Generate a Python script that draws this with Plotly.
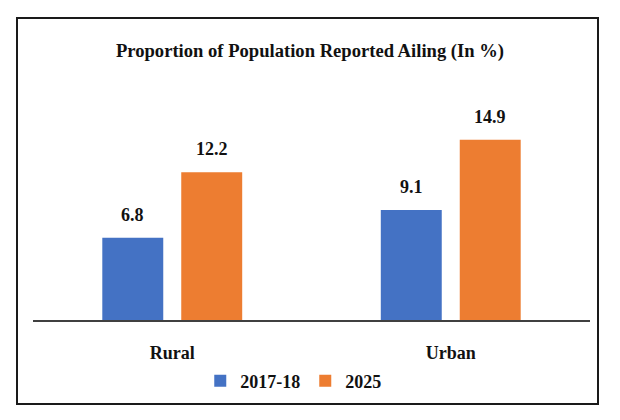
import plotly.graph_objects as go

categories = ["Rural", "Urban"]
series_names = ["2017-18", "2025"]
values_2017 = [6.8, 9.1]
values_2025 = [12.2, 14.9]
colors = ["#4472C4", "#ED7D31"]

W, H = 620, 420
ml, mr, mt, mb = 33, 30, 100, 100
ymax = 18.18
font_family = "Liberation Serif, Times New Roman, serif"
bold = dict(family=font_family, size=18, color="#111", weight="bold")

fig = go.Figure()
for name, vals, col in zip(series_names, [values_2017, values_2025], colors):
    fig.add_trace(go.Bar(name=name, x=categories, y=vals, marker_color=col,
                         marker_line_width=0))

# value labels
plot_w = W - ml - mr
slot = plot_w / len(categories) * (1 - 0.433) / 2
for i, vals in enumerate([values_2017, values_2025]):
    xs = (-0.5 + i) * slot
    for c, v in zip(categories, vals):
        fig.add_annotation(x=c, y=v, text=str(v), showarrow=False,
                           xshift=xs, yshift=23, yanchor="middle",
                           font=bold)

# outer border
ph = H - mt - mb
px2x = lambda px: (px - ml) / plot_w
py2y = lambda py: (H - mb - py) / ph
fig.add_shape(type="rect", xref="paper", yref="paper",
              x0=px2x(17), x1=px2x(598), y0=py2y(404), y1=py2y(18),
              line=dict(color="#1a1a1a", width=2), fillcolor="rgba(0,0,0,0)",
              layer="below")

fig.update_layout(
    width=W, height=H,
    margin=dict(l=ml, r=mr, t=mt, b=mb, autoexpand=False),
    paper_bgcolor="white", plot_bgcolor="white",
    barmode="group", bargap=0.433, bargroupgap=0.228,
    title=dict(text="Proportion of Population Reported Ailing (In %)",
               x=0.5, xanchor="center", y=1 - 50 / H, yanchor="middle",
               yref="container",
               font=dict(family=font_family, size=18.6, color="#111", weight="bold")),
    font=bold,
    legend=dict(orientation="h", xref="container", yref="container",
                x=0.473, xanchor="center", y=1 - 381 / H, yanchor="middle",
                font=bold, itemwidth=30, traceorder="normal",
                bgcolor="rgba(0,0,0,0)"),
    xaxis=dict(showline=True, linecolor="#404040", linewidth=2,
               ticks="outside", ticklen=15, tickcolor="rgba(0,0,0,0)",
               tickfont=bold, showgrid=False),
    yaxis=dict(range=[0, ymax], visible=False, showgrid=False),
)

fig.write_html("out.html")
